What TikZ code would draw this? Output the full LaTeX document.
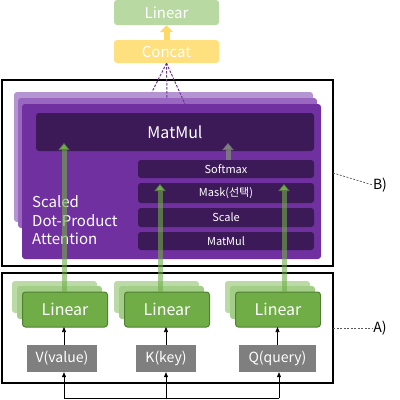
\documentclass[tikz,border=0pt]{standalone}
\usepackage{fontspec}
\setmainfont{Noto Sans CJK KR}
\usetikzlibrary{arrows.meta}
\definecolor{lgreen}{HTML}{B9D9A3}
\definecolor{cyellow}{HTML}{FFE07F}
\definecolor{ayellow}{HTML}{FFD966}
\definecolor{pback}{HTML}{B495D2}
\definecolor{pmid}{HTML}{9966C0}
\definecolor{pfront}{HTML}{7030A0}
\definecolor{pdark}{HTML}{3C1A58}
\definecolor{gback}{HTML}{BBDAA5}
\definecolor{gmid}{HTML}{A3CE87}
\definecolor{gfront}{HTML}{70AD47}
\definecolor{gborder}{HTML}{507E32}
\definecolor{boxgray}{HTML}{7F7F7F}
\tikzset{
  box/.style={rounded corners=3pt, inner sep=0pt, text=white},
  fatgreen/.style={draw=gfront, draw opacity=0.6, line width=5pt, -{Triangle[width=11pt,length=7pt]}},
  fatgray/.style={draw=boxgray, draw opacity=0.85, line width=5pt, -{Triangle[width=11pt,length=7pt]}},
  thinarrow/.style={draw=black, line width=0.6pt, -{Triangle[width=4pt,length=5pt]}},
  smalldash/.style={dash pattern=on 2pt off 1.5pt, line width=0.7pt},
}
\begin{document}
\begin{tikzpicture}[x=1pt,y=-1pt]
\useasboundingbox (0,0) rectangle (400,400);
% top
\node[box, fill=lgreen, minimum width=105pt, minimum height=25pt, font=\fontsize{15}{15}\selectfont] (lin) at (166.5,12.5) {Linear};
\node[box, fill=cyellow, minimum width=105pt, minimum height=23pt, font=\fontsize{15}{15}\selectfont] (concat) at (166.5,51.5) {Concat};
\draw[draw=ayellow, line width=6pt, -{Triangle[width=13pt,length=7pt]}] (concat.north) -- (lin.south);
% B box
\draw[line width=1.5pt] (2,80) rectangle (333,266);
\coordinate (bR) at (333,173);
% purple layers
\node[box, fill=pback, minimum width=299pt, minimum height=130pt] (pl1) at (163.5,157) {};
\node[box, fill=pmid, minimum width=299pt, minimum height=130pt] (pl2) at (167.5,163) {};
\node[box, fill=pfront, minimum width=299pt, minimum height=155pt] (pl3) at (171.5,181.5) {};
\coordinate (d1) at (152,92);
\coordinate (d2) at (167,98);
\coordinate (d3) at (185,104);
\foreach \d in {d1,d2,d3} \draw[pfront, dash pattern=on 2.5pt off 1.5pt, line width=1pt] (concat.south) -- (\d);
\node[box, fill=pdark, minimum width=278pt, minimum height=38pt, font=\fontsize{16}{16}\selectfont] (mm) at (175,132) {MatMul};
\tikzset{small/.style={box, fill=pdark, minimum width=176pt, font=\fontsize{11}{11}\selectfont}}
\node[small, minimum height=18pt] (soft) at (226,169) {Softmax};
\node[small, minimum height=20pt] (mask) at (226,193) {Mask(선택)};
\node[small, minimum height=19pt] (scale) at (226,217.5) {Scale};
\node[small, minimum height=18pt] (mm2) at (226,241) {MatMul};
\node[text=white, align=left, anchor=west, inner sep=0pt, font=\fontsize{15}{18.5}\selectfont] (sdpa) at (32,220.5) {Scaled\\Dot-Product\\Attention};
% A box
\draw[line width=1.5pt] (2,273) rectangle (333,383);
\coordinate (aR) at (333,328);
% green stacks
\foreach \n/\dx in {v/0,k/102,q/213}{
  \node[box, fill=gback, minimum width=85pt, minimum height=32pt] (\n b) at (54.5+\dx,297) {};
  \node[box, fill=gmid, minimum width=85pt, minimum height=33pt] (\n m) at (59.5+\dx,302.5) {};
  \node[box, fill=gfront, draw=gborder, line width=1pt, minimum width=85pt, minimum height=35pt, font=\fontsize{16}{16}\selectfont] (\n l) at (65+\dx,309.5) {Linear};
}
% gray inputs
\tikzset{gbox/.style={fill=boxgray, text=white, inner sep=0pt, minimum height=27pt, font=\fontsize{14}{14}\selectfont}}
\node[gbox, minimum width=70pt] (gv) at (62,358.5) {V(value)};
\node[gbox, minimum width=60pt] (gk) at (166,358.5) {K(key)};
\node[gbox, minimum width=77pt] (gq) at (277.5,358.5) {Q(query)};
% thick arrows
\coordinate (tv) at (64,143);
\coordinate (tk) at (160,184);
\coordinate (tq) at (284,184);
\draw[fatgreen] (64,292) -- (tv);
\draw[fatgreen] (160,292) -- (tk);
\draw[fatgreen] (284,292) -- (tq);
\draw[fatgray] (soft.north -| 228,0) -- (228,143);
% thin arrows
\draw[thinarrow] (gv.north -| 64,0) -- (64,327);
\draw[thinarrow] (gk.north) -- (166,327);
\draw[thinarrow] (gq.north) -- (277.5,327);
\coordinate (c1) at (64,398);
\coordinate (c2) at (166,398);
\coordinate (c3) at (279,398);
\draw[line width=0.6pt] (c1) -- (c3);
\draw[thinarrow] (c1) -- (gv.south -| c1);
\draw[thinarrow] (c2) -- (gk.south);
\draw[thinarrow] (c3) -- (gq.south -| c3);
% labels
\node[inner sep=0pt, font=\fontsize{14}{14}\selectfont] (lB) at (380,185) {B)};
\node[inner sep=0pt, font=\fontsize{14}{14}\selectfont] (lA) at (380,328) {A)};
\draw[smalldash, gray!70!black] (bR) -- (lB.west);
\draw[smalldash, gray!70!black] (aR) -- (lA.west);
\end{tikzpicture}
\end{document}
